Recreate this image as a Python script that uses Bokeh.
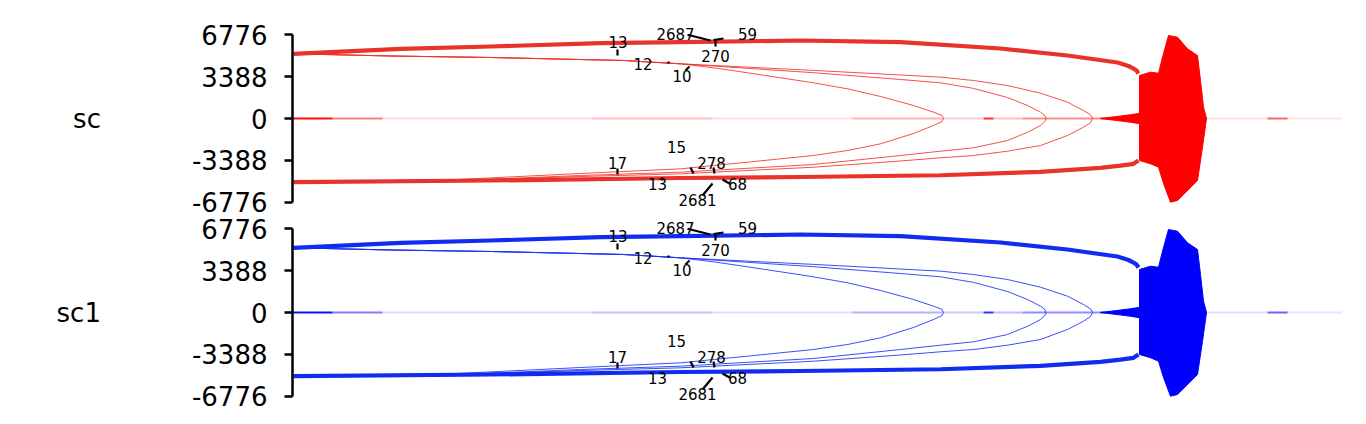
from bokeh.plotting import figure
from bokeh.models import Range1d, FixedTicker, ColumnDataSource
from bokeh.layouts import column
from bokeh.embed import file_html
from bokeh.resources import INLINE
from bokeh.core.properties import value

FONT = "DejaVu Sans"

# ---------------- data ----------------
tracks = ["sc", "sc1"]
thick_colors = ["#e8322a", "#0f2cf0"]
thin_colors = ["#f0342a", "#1530f5"]
fill_colors = ["#ff0000", "#0000ff"]

y_ticks = [-6776, -3388, 0, 3388, 6776]
y_tick_labels = ["-6776", "-3388", "0", "3388", "6776"]

# thick outer envelope (upper and lower branch)
outer_up_x = [1, 108, 198, 308, 388, 508, 608, 708, 775, 825, 836, 841, 844, 846]
outer_up_y = [5219, 5623, 5808, 6074, 6155, 6292, 6155, 5647, 5082, 4518, 4235, 4033, 3872, 3630]
outer_lo_x = [1, 198, 388, 508, 648, 748, 808, 828, 841, 846]
outer_lo_y = [-5139, -5002, -4800, -4720, -4580, -4300, -3977, -3800, -3654, -3388]

# three thin loops
loop1_x = [1, 98, 198, 331, 388, 421, 455, 488, 521, 555, 588, 621, 641, 649.5, 651,
           649.5, 641, 621, 588, 555, 521, 488, 455, 421, 388, 288, 165, 1]
loop1_y = [5219, 5042, 4921, 4679, 4411, 4088, 3687, 3284, 2880, 2396, 1775, 1049, 508, 250, 0,
           -250, -565, -1210, -2044, -2581, -2985, -3253, -3525, -3791, -4060, -4437, -4921, -5123]
loop2_x = [1, 98, 198, 331, 388, 521, 608, 648, 681, 715, 735, 748, 752, 753.5,
           752, 748, 735, 715, 681, 648, 608, 521, 388, 288, 165, 1]
loop2_y = [5219, 5042, 4921, 4679, 4411, 3695, 3146, 2880, 2429, 1694, 1049, 508, 280, 0,
           -280, -565, -1113, -1775, -2365, -2638, -2985, -3710, -4330, -4598, -5001, -5123]
loop3_x = [1, 98, 198, 331, 388, 521, 608, 648, 681, 715, 748, 775, 791, 798, 800,
           798, 791, 775, 748, 715, 681, 648, 608, 521, 388, 288, 165, 1]
loop3_y = [5219, 5042, 4921, 4679, 4411, 3882, 3509, 3336, 3065, 2662, 2041, 1315, 645, 300, 0,
           -330, -702, -1371, -2178, -2638, -2985, -3170, -3428, -3929, -4464, -4679, -5001, -5123]

# filled waveform burst
wave_x = [808, 828, 838, 847, 847, 858, 866, 870, 876, 885, 895, 905, 908, 911, 914,
          910, 905, 885, 878, 871, 866, 858, 847, 847, 838, 828]
wave_y = [0, 200, 300, 420, 3469, 3735, 3654, 4945, 6696, 6558, 5623, 5082, 3065, 912, 0,
          -2323, -5002, -6615, -6752, -5244, -3929, -3654, -3388, -420, -300, -200]

# baseline density (segments along y = 0)
center_x = [0, 40, 90, 300, 420, 560, 650, 691, 701, 730, 808, 914, 975, 995, 1050]
center_alpha = [0.95, 0.5, 0.15, 0.25, 0.12, 0.3, 0.2, 0.8, 0.25, 0.45, 0.8, 0.12, 0.6, 0.1]

# annotation labels
ann_text = ["13", "2687", "59", "270", "12", "10", "15", "17", "278", "13", "68", "2681"]
ann_x = [325.5, 383, 455, 423, 350.5, 389.5, 384, 325, 419, 365, 445, 405]
ann_y = [6171, 6817, 6817, 5082, 4397, 3428, -2259, -3630, -3630, -5244, -5324, -6575]

# annotation tick marks
tick_x0 = [325, 395, 421, 423, 376, 393, 325, 398, 421, 370, 430, 420]
tick_y0 = [5566, 6752, 6333, 6373, 4598, 3872, -4034, -3953, -3953, -4760, -4921, -5244]
tick_x1 = [325, 418, 431, 423, 376, 397, 325, 401, 422, 370, 437, 410]
tick_y1 = [5082, 6292, 6454, 5808, 4437, 4195, -4518, -4437, -4437, -5002, -5244, -6212]


def make_track(name, thick, thin, fill):
    p = figure(output_backend="svg", toolbar_location=None,
               frame_width=1054, frame_height=194,
               x_range=Range1d(0, 1054), y_range=Range1d(-7825, 7825),
               x_axis_location=None, min_border_left=292, min_border_right=10,
               min_border_top=0, min_border_bottom=0)
    p.outline_line_color = None
    p.grid.visible = False
    p.background_fill_color = "white"
    p.border_fill_color = "white"

    ax = p.yaxis[0]
    ax.ticker = FixedTicker(ticks=y_ticks, minor_ticks=[])
    ax.major_label_overrides = {t: s for t, s in zip(y_ticks, y_tick_labels)}
    ax.bounds = (-6776, 6776)
    ax.axis_line_width = 2.5
    ax.axis_line_color = "black"
    ax.major_tick_line_width = 2.5
    ax.major_tick_line_color = "black"
    ax.major_tick_out = 8
    ax.major_tick_in = 0
    ax.minor_tick_line_color = None
    ax.major_label_standoff = 17
    ax.major_label_text_font = FONT
    ax.major_label_text_font_size = "26px"
    ax.major_label_text_color = "black"
    ax.axis_label = name
    ax.axis_label_orientation = "horizontal"
    ax.axis_label_standoff = 88
    ax.axis_label_text_font = FONT
    ax.axis_label_text_font_size = "26px"
    ax.axis_label_text_font_style = "normal"
    ax.axis_label_text_color = "black"

    # baseline
    src_c = ColumnDataSource(dict(x0=center_x[:-1], x1=center_x[1:],
                                  y0=[0] * len(center_alpha), y1=[0] * len(center_alpha),
                                  a=center_alpha))
    p.segment(x0="x0", y0="y0", x1="x1", y1="y1", source=src_c,
              line_color=fill, line_alpha="a", line_width=2)

    for lx, ly in ((loop1_x, loop1_y), (loop2_x, loop2_y), (loop3_x, loop3_y)):
        p.line(lx, ly, line_color=thin, line_width=1, line_alpha=0.85, line_join="round")

    p.line(outer_up_x, outer_up_y, line_color=thick, line_width=4.2, line_join="round")
    p.line(outer_lo_x, outer_lo_y, line_color=thick, line_width=4.2, line_join="round")

    p.patch(wave_x, wave_y, fill_color=fill, line_color=fill, line_width=1)

    p.segment(x0=tick_x0, y0=tick_y0, x1=tick_x1, y1=tick_y1,
              line_color="black", line_width=2.2)
    p.text(x=ann_x, y=ann_y, text=ann_text, text_font=value(FONT),
           text_font_size="15px", text_align="center", text_baseline="middle",
           text_color="black")
    return p


p1 = make_track(tracks[0], thick_colors[0], thin_colors[0], fill_colors[0])
p1.min_border_top = 21
p2 = make_track(tracks[1], thick_colors[1], thin_colors[1], fill_colors[1])
p2.min_border_bottom = 5

layout = column(p1, p2, spacing=0)
open("out.html", "w").write(file_html(layout, INLINE))
